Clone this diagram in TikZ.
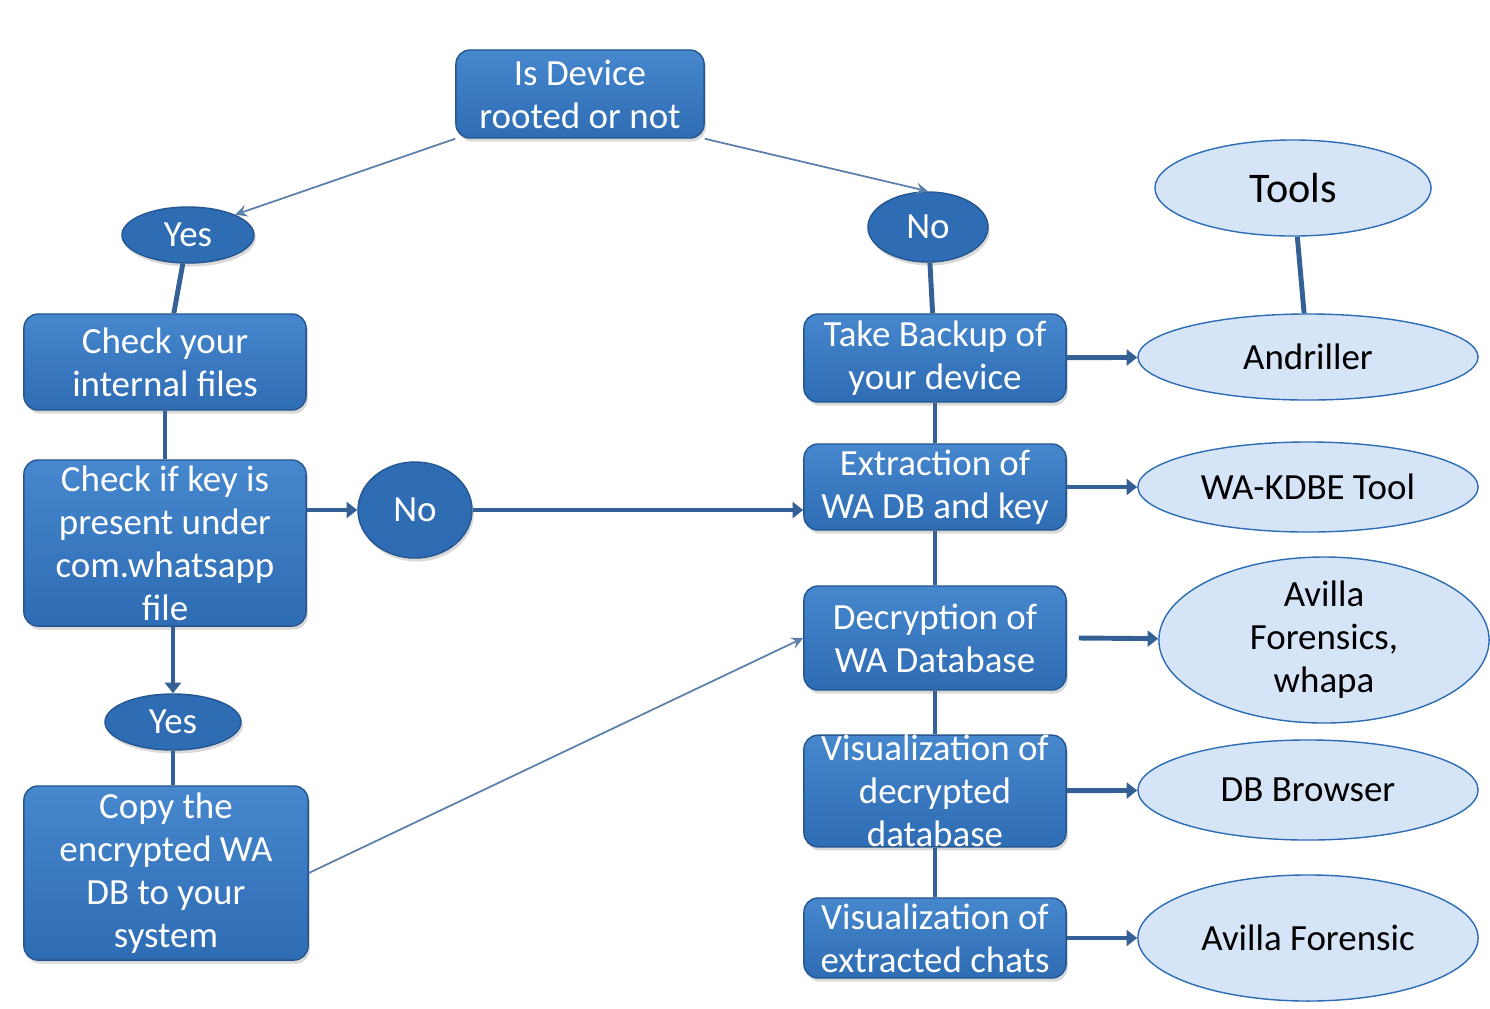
\documentclass[tikz,border=0pt]{standalone}
\usepackage{fontspec}
\setmainfont{Carlito}
\usetikzlibrary{shapes.geometric, positioning, arrows, arrows.meta, shadows}
\definecolor{boxblue}{RGB}{46,108,180}
\definecolor{boxtop}{RGB}{70,135,205}
\definecolor{linkblue}{RGB}{52,96,150}
\definecolor{pale}{RGB}{214,228,248}
\tikzset{
    x=0.01cm, y=-0.01cm,
    process/.style={rectangle, rounded corners=4pt, top color=boxtop, bottom color=boxblue, draw=boxblue!80!black, text=white, align=center, font=\fontsize{10.5}{12.2}\selectfont, inner sep=0pt, drop shadow={opacity=0.3, shadow xshift=0.5pt, shadow yshift=-1pt}}, % process box
    answer/.style={ellipse, fill=boxblue, draw=boxblue!80!black, text=white, font=\fontsize{10.5}{12.2}\selectfont, inner sep=0pt, drop shadow={opacity=0.3, shadow xshift=0.5pt, shadow yshift=-1pt}}, % yes/no
    tool/.style={ellipse, fill=pale, draw=boxblue, text=black, align=center, font=\fontsize{10.5}{12.2}\selectfont, inner sep=0pt}, % tool names
    thin link/.style={->, >=stealth, draw=linkblue!80, line width=0.5pt},
    link/.style={-{Triangle[length=3pt,width=4.5pt]}, draw=linkblue, line width=1.4pt},
    plain link/.style={draw=linkblue, line width=1.4pt},
}
\begin{document}
\begin{tikzpicture}
\useasboundingbox (0,0) rectangle (1490,1008);
% left column
\node[process, minimum width=2.48cm, minimum height=0.88cm] (root) at (580,94) {Is Device\\rooted or not};
\node[answer, minimum width=1.32cm, minimum height=0.56cm] (yes1) at (188,235) {Yes};
\node[answer, minimum width=1.2cm, minimum height=0.7cm] (no1) at (928,227) {No};
\node[process, minimum width=2.82cm, minimum height=0.96cm] (internal) at (165,362) {Check your\\internal files};
\node[process, minimum width=2.82cm, minimum height=1.66cm] (key) at (165,543) {Check if key is\\present under\\com.whatsapp\\file};
\node[answer, minimum width=1.14cm, minimum height=0.96cm] (no2) at (415,510) {No};
\node[answer, minimum width=1.36cm, minimum height=0.56cm] (yes2) at (173,722) {Yes};
\node[process, minimum width=2.84cm, minimum height=1.74cm] (copy) at (166,873) {Copy the\\encrypted WA\\DB to your\\system};
% right column
\node[process, minimum width=2.62cm, minimum height=0.88cm] (backup) at (935,358) {Take Backup of\\your device};
\node[process, minimum width=2.62cm, minimum height=0.86cm] (extract) at (935,487) {Extraction of\\WA DB and key};
\node[process, minimum width=2.62cm, minimum height=1.04cm] (decrypt) at (935,638) {Decryption of\\WA Database};
\node[process, minimum width=2.62cm, minimum height=1.1cm] (visdb) at (935,791) {Visualization of\\decrypted\\database};
\node[process, minimum width=2.62cm, minimum height=0.8cm] (vischat) at (935,938) {Visualization of\\extracted chats};
% tools
\node[tool, minimum width=2.76cm, minimum height=0.96cm, font=\fontsize{12}{14}\selectfont] (tools) at (1293,188) {Tools};
\node[tool, minimum width=3.4cm, minimum height=0.86cm] (andriller) at (1308,357) {Andriller};
\node[tool, minimum width=3.4cm, minimum height=0.9cm] (kdbe) at (1308,487) {WA-KDBE Tool};
\node[tool, minimum width=3.3cm, minimum height=1.64cm] (avilla) at (1324,640) {Avilla\\Forensics,\\whapa};
\node[tool, minimum width=3.4cm, minimum height=1.0cm] (dbb) at (1308,790) {DB Browser};
\node[tool, minimum width=3.4cm, minimum height=1.26cm] (avf) at (1308,938) {Avilla Forensic};
% connectors
\draw[thin link] (root.south west) -- (yes1.north east);
\draw[thin link] (root.south east) -- (no1.north);
\draw[thin link] (copy.east) -- (decrypt.west);
\draw[plain link] (yes1) -- (internal);
\draw[plain link] (internal) -- (key);
\draw[link] (key.east |- no2) -- (no2);
\draw[link] (no2) -- (extract.west |- no2);
\draw[link] (key.south -| yes2) -- (yes2);
\draw[plain link] (yes2) -- (copy.north -| yes2);
\draw[plain link] (no1) -- (backup);
\draw[plain link] (backup) -- (extract);
\draw[plain link] (extract) -- (decrypt);
\draw[plain link] (decrypt) -- (visdb);
\draw[plain link] (visdb) -- (vischat);
\draw[plain link] (tools) -- (andriller);
\draw[link] (backup) -- (andriller);
\draw[link] (extract) -- (kdbe);
\draw[link] ([xshift=0.12cm]decrypt.east) -- (avilla);
\draw[link] (visdb) -- (dbb);
\draw[link] (vischat) -- (avf);
\end{tikzpicture}
\end{document}
